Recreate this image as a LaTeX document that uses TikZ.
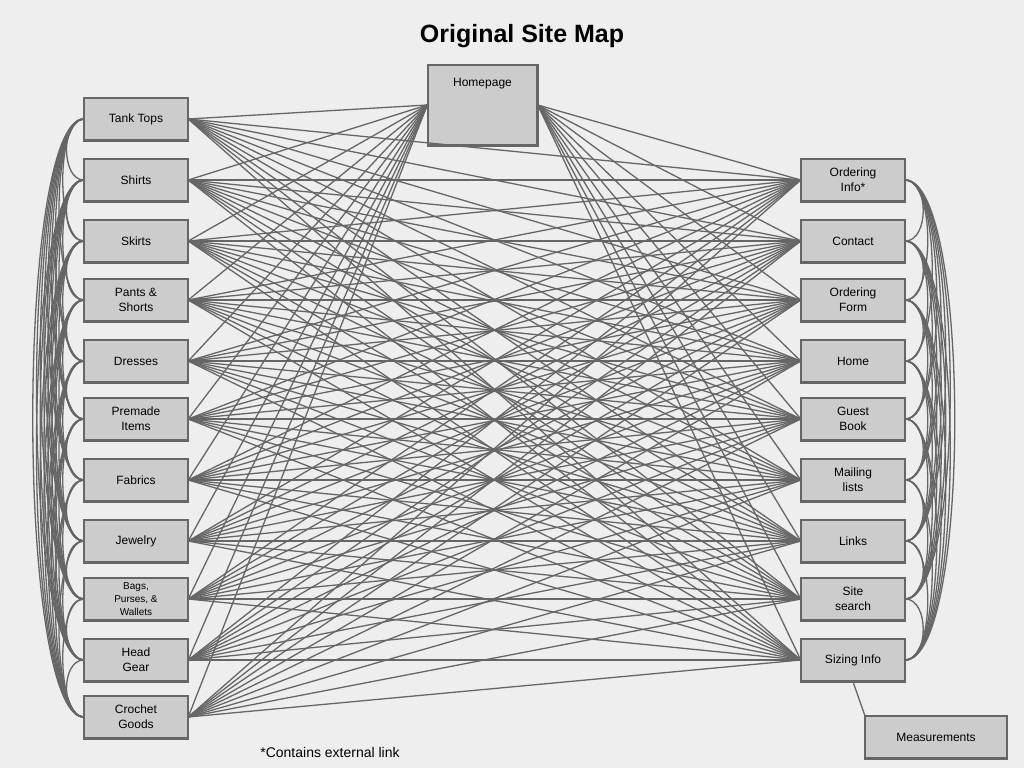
\documentclass[tikz,border=0pt]{standalone}
\usepackage{fontspec}
\setmainfont{Liberation Sans}
\definecolor{bg}{HTML}{EEEEEE}
\definecolor{boxfill}{HTML}{CCCCCC}
\definecolor{edge}{HTML}{666666}
\tikzset{
  page/.style={draw=edge, line width=1.5pt, fill=boxfill, minimum width=103pt, minimum height=42pt, align=center, font=\fontsize{12}{15}\selectfont, inner sep=1pt},
  link/.style={draw=edge, line width=1.3pt}
}
\begin{document}
\begin{tikzpicture}[x=1pt,y=-1pt]
  \fill[bg] (0,0) rectangle (1024,768);
  \useasboundingbox (0,0) rectangle (1024,768);
  \node[font=\bfseries\fontsize{25}{30}\selectfont] (title) at (522,36) {Original Site Map};
  \node[page, minimum width=109pt, minimum height=80pt, text depth=46pt] (home) at (482.5,105) {Homepage};
  % left column
  \node[page] (l1) at (136,119) {Tank Tops};
  \node[page] (l2) at (136,180) {Shirts};
  \node[page] (l3) at (136,241) {Skirts};
  \node[page] (l4) at (136,300) {Pants \&\\Shorts};
  \node[page] (l5) at (136,361) {Dresses};
  \node[page] (l6) at (136,419) {Premade\\Items};
  \node[page] (l7) at (136,480) {Fabrics};
  \node[page] (l8) at (136,541) {Jewelry};
  \node[page, font=\fontsize{10}{13}\selectfont] (l9) at (136,599) {Bags,\\Purses, \&\\Wallets};
  \node[page] (l10) at (136,660) {Head\\Gear};
  \node[page] (l11) at (136,717) {Crochet\\Goods};
  % right column
  \node[page] (r1) at (853,180) {Ordering\\Info*};
  \node[page] (r2) at (853,241) {Contact};
  \node[page] (r3) at (853,300) {Ordering\\Form};
  \node[page] (r4) at (853,361) {Home};
  \node[page] (r5) at (853,419) {Guest\\Book};
  \node[page] (r6) at (853,480) {Mailing\\lists};
  \node[page] (r7) at (853,541) {Links};
  \node[page] (r8) at (853,599) {Site\\search};
  \node[page] (r9) at (853,660) {Sizing Info};
  \node[page, minimum width=141pt] (meas) at (936,737) {Measurements};
  \node[font=\fontsize{14}{17}\selectfont] (note) at (330,752) {*Contains external link};
  % links
  \begin{scope}[on background layer/.try]
  \foreach \i in {1,...,11} {
    \draw[link] (l\i.east) -- (home.west);
    \foreach \j in {1,...,9}
      \draw[link] (l\i.east) -- (r\j.west);
    \foreach \k in {\i,...,11} {
      \ifnum\k>\i
        \pgfmathsetmacro{\d}{18+5*(\k-\i)}
        \draw[link] (l\i.west) .. controls +(-\d,0) and +(-\d,0) .. (l\k.west);
      \fi
    }
  }
  \foreach \j in {1,...,9} {
    \draw[link] (home.east) -- (r\j.west);
    \foreach \k in {\j,...,9} {
      \ifnum\k>\j
        \pgfmathsetmacro{\d}{18+6*(\k-\j)}
        \draw[link] (r\j.east) .. controls +(\d,0) and +(\d,0) .. (r\k.east);
      \fi
    }
  }
  \draw[link] (r9.south) -- (meas.north west);
  \end{scope}
  % redraw boxes on top
  \foreach \n in {home,l1,l2,l3,l4,l5,l6,l7,l8,l9,l10,l11,r1,r2,r3,r4,r5,r6,r7,r8,r9,meas}
    \draw[edge, line width=1.5pt] (\n.north west) rectangle (\n.south east);
\end{tikzpicture}
\end{document}
